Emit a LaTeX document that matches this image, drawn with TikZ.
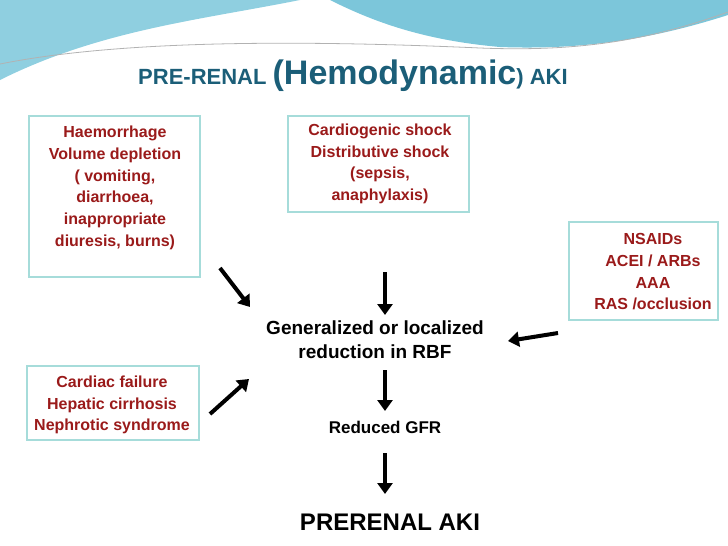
\documentclass[tikz,border=0pt]{standalone}
\usepackage{fontspec}
\setmainfont{Liberation Sans}
\usetikzlibrary{arrows.meta}
\definecolor{teal1}{HTML}{1B5E78}
\definecolor{boxb}{HTML}{A6DCDA}
\definecolor{txtr}{HTML}{9A1A1A}
\definecolor{wave1}{HTML}{8FCFE0}
\definecolor{wave2}{HTML}{7CC6DA}
\begin{document}
\begin{tikzpicture}[x=1pt,y=-1pt,
  box/.style={draw=boxb,line width=2pt},
  btxt/.style={font=\fontsize{16}{21.7}\selectfont\bfseries,text=txtr,align=center},
  arr/.style={-{Triangle[length=11pt,width=15pt]},line width=4pt,black},
  mtxt/.style={font=\fontsize{19}{24}\selectfont\bfseries,align=center}]
\useasboundingbox (0,0) rectangle (728,546);
% wave
\fill[wave1] (0,0) -- (300,0) .. controls (200,20) and (100,30) .. (0,80) -- cycle;
\fill[wave2] (330,0) -- (728,0) -- (728,15) .. controls (650,40) and (580,50) .. (500,47) .. controls (420,40) and (370,20) .. (330,0) -- cycle;
\draw[gray!60,line width=0.8pt] (0,64) .. controls (120,40) and (300,40) .. (480,48) .. controls (580,52) and (650,40) .. (728,12);
% title
\node[text=teal1,font=\bfseries,anchor=base west,inner sep=0pt] (title) at (138,84) {\fontsize{22}{24}\selectfont PRE-RENAL \fontsize{34}{36}\selectfont(Hemodynamic\fontsize{22}{24}\selectfont) AKI};
% boxes
\draw[box] (29,116) rectangle (200,277);
\node[btxt] (b1) at (115,188) {Haemorrhage\\Volume depletion\\( vomiting,\\diarrhoea,\\inappropriate\\diuresis, burns)};
\draw[box] (288,116) rectangle (469,212);
\node[btxt] (b2) at (380,164) {Cardiogenic shock\\Distributive shock\\(sepsis,\\anaphylaxis)};
\draw[box] (569,222) rectangle (718,320);
\node[btxt] (b3) at (653,272) {NSAIDs\\ACEI / ARBs\\AAA\\RAS /occlusion};
\draw[box] (27,366) rectangle (199,440);
\node[btxt] (b4) at (112,405) {Cardiac failure\\Hepatic cirrhosis\\Nephrotic syndrome};
% center texts
\node[mtxt] (rbf) at (375,340) {Generalized or localized\\reduction in RBF};
\node[font=\fontsize{17}{19}\selectfont\bfseries] (gfr) at (385,427) {Reduced GFR};
\node[font=\fontsize{24}{26}\selectfont\bfseries] (aki) at (390,522) {PRERENAL AKI};
% arrows
\coordinate (a1s) at (220,268); \coordinate (a1e) at (250,307);
\coordinate (a2s) at (385,272); \coordinate (a2e) at (385,315);
\coordinate (a3s) at (558,333); \coordinate (a3e) at (508,341);
\coordinate (a4s) at (210,414); \coordinate (a4e) at (249,379);
\coordinate (a5s) at (385,370); \coordinate (a5e) at (385,411);
\coordinate (a6s) at (385,453); \coordinate (a6e) at (385,494);
\foreach \i in {1,...,6} \draw[arr] (a\i s) -- (a\i e);
\end{tikzpicture}
\end{document}
